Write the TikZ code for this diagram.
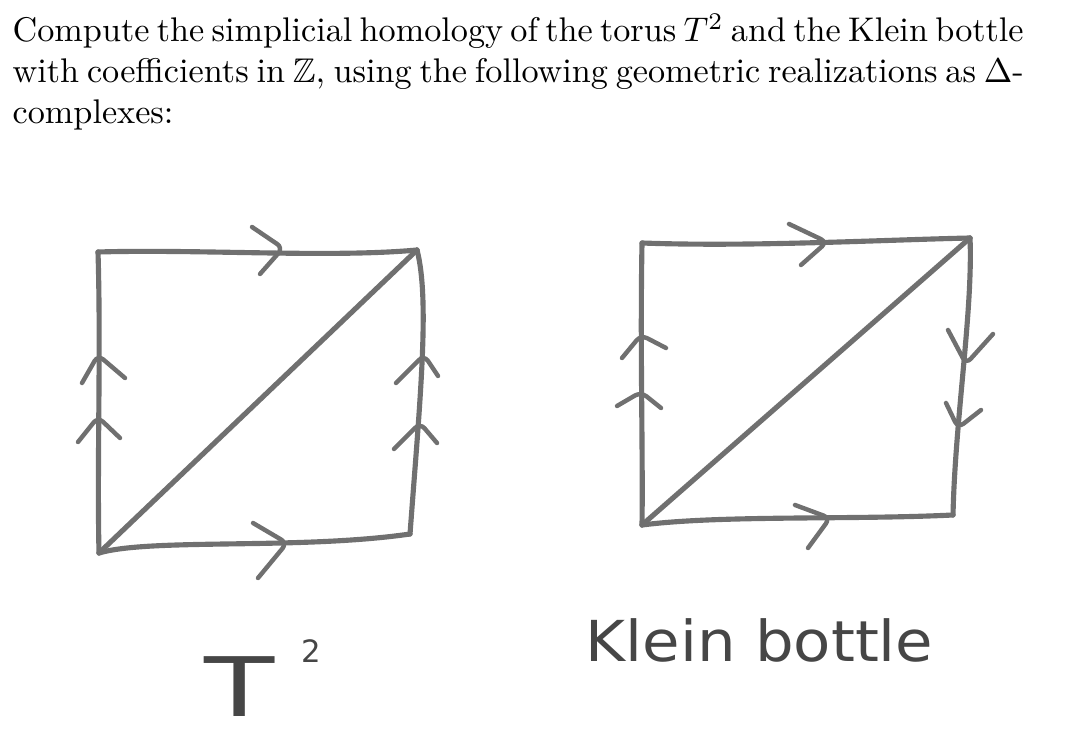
\documentclass[tikz,border=0pt]{standalone}
\usepackage{amssymb}
\usepackage{fontspec}
\newfontfamily\handfont{DejaVu Sans}
\definecolor{pen}{RGB}{112,112,112}
\definecolor{ink}{RGB}{70,70,70}
\begin{document}
\begin{tikzpicture}[x=0.2923pt,y=-0.2923pt,
  edge/.style={draw=pen,line width=1.5pt,line cap=round,line join=round},
  chev/.style={draw=pen,line width=1.3pt,line cap=round,line join=round,rounded corners=2pt},
  hand/.style={text=ink,inner sep=0pt,font=\handfont}]
\useasboundingbox (0,0) rectangle (1065,741);
% problem text
\node[anchor=north west,inner sep=0pt,text width=1011*0.2923pt,align=justify] (txt) at (12,13)
 {\spaceskip=3.33pt plus 3pt minus 1.6pt
  Compute the simplicial homology of the torus $T^2$ and the Klein bottle\linebreak
  with coefficients in $\mathbb{Z}$, using the following geometric realizations as $\Delta$-\linebreak
  complexes:};
% ---------- torus ----------
\coordinate (ta) at (99,553);
\coordinate (tb) at (410,534);
\coordinate (tc) at (417,250);
\coordinate (td) at (98,252);
\path[edge] (td) .. controls (200,249) and (330,258) .. (tc);
\path[edge] (ta) .. controls (150,538) and (300,550) .. (tb);
\path[edge] (td) .. controls (101,350) and (97,460) .. (ta);
\path[edge] (tc) .. controls (430,300) and (420,400) .. (tb);
\path[edge] (ta) -- (tc);
% torus arrowheads
\path[chev] (252,227) -- (283,248) -- (260,274);
\path[chev] (253,523) -- (287,543) -- (258,578);
\path[chev] (82,383) -- (98,355) -- (125,378);
\path[chev] (78,442) -- (98,417) -- (120,438);
\path[chev] (396,383) -- (424,355) -- (438,376);
\path[chev] (394,449) -- (420,423) -- (437,443);
% ---------- Klein bottle ----------
\coordinate (ka) at (642,525);
\coordinate (kb) at (953,515);
\coordinate (kc) at (970,238);
\coordinate (kd) at (642,243);
\path[edge] (kd) .. controls (750,247) and (880,240) .. (kc);
\path[edge] (ka) .. controls (720,515) and (850,520) .. (kb);
\path[edge] (kd) .. controls (640,350) and (643,450) .. (ka);
\path[edge] (kc) .. controls (973,310) and (955,420) .. (kb);
\path[edge] (ka) -- (kc);
% Klein arrowheads
\path[chev] (789,224) -- (827,242) -- (801,265);
\path[chev] (795,505) -- (830,518) -- (808,548);
\path[chev] (622,358) -- (641,335) -- (666,348);
\path[chev] (617,406) -- (641,392) -- (661,408);
\path[chev] (948,330) -- (966,364) -- (993,334);
\path[chev] (946,403) -- (958,428) -- (981,410);
% ---------- labels ----------
\node[hand,font=\handfont\fontsize{24}{24}\selectfont,anchor=base,xscale=1.4] (tlab) at (240,716) {T};
\node[hand,font=\handfont\fontsize{9}{9}\selectfont,anchor=base] (tsup) at (311,662) {2};
\node[hand,font=\handfont\fontsize{16.5}{16.5}\selectfont,anchor=base west,xscale=1.08] (klab) at (585,661) {Klein bottle};
\end{tikzpicture}
\end{document}
